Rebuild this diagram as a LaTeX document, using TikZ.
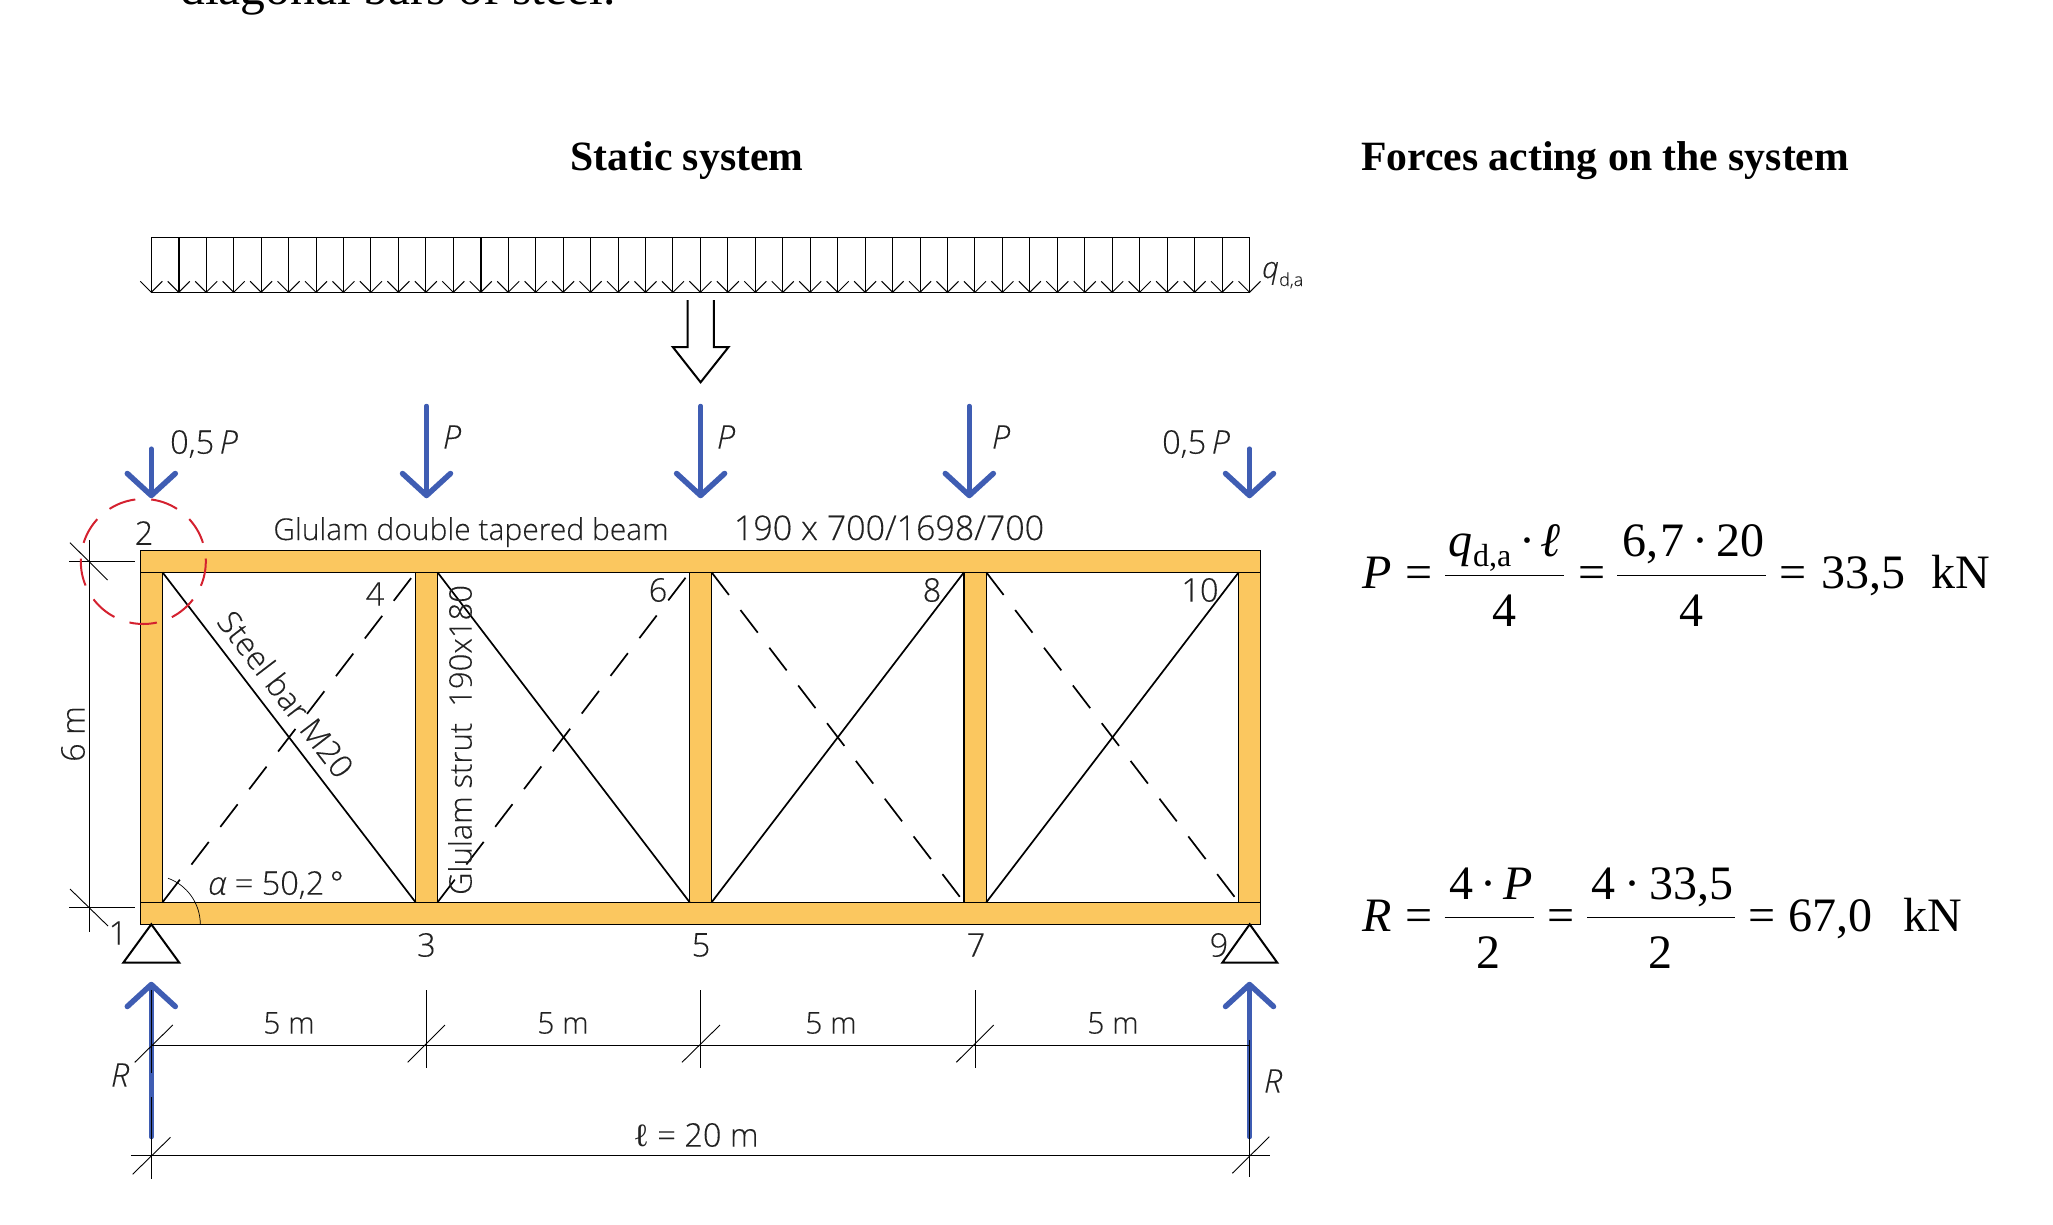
\documentclass[tikz,border=0pt]{standalone}
\usepackage{fontspec}
\setmainfont{Liberation Serif}
\newfontfamily\lightsans{Open Sans Light}[ItalicFont={Open Sans Light Italic}, FakeBold=0.2, AutoFakeBold=0.2]
\definecolor{timber}{HTML}{FBC75F}
\definecolor{forceblue}{HTML}{3F5DB3}
\definecolor{labelgray}{HTML}{222222}
\definecolor{detailred}{HTML}{D4212F}
\newcommand{\labsize}{\lightsans\fontsize{30}{32}\selectfont}
\newcommand{\numsize}{\lightsans\fontsize{32.5}{34}\selectfont}
\newcommand{\eqsize}{\fontsize{48}{52}\selectfont}
\newcommand{\eqsub}{\fontsize{32}{34}\selectfont}
\newcommand{\titlesize}{\bfseries\fontsize{41.7}{44}\selectfont}

\begin{document}
\begin{tikzpicture}[x=1pt, y=-1pt, inner sep=0pt,
    beam/.style = {draw=black, fill=timber, line width=1.3pt},
    tie/.style = {line width=1.7pt},
    slack/.style = {line width=1.7pt, dash pattern=on 28.5pt off 19pt},
    dimline/.style = {line width=0.9pt},
    support/.style = {line width=2pt, line join=miter},
    force/.style = {draw=forceblue, line width=4.5pt, line cap=round},
    forcehead/.style = {draw=forceblue, line width=5.5pt, line cap=round, line join=round},
    lab/.style = {font=\labsize, text=labelgray},
    num/.style = {font=\numsize, text=labelgray},
    eq/.style = {anchor=base west, font=\eqsize},
    eqmid/.style = {anchor=base, font=\eqsize},
    title/.style = {anchor=base, font=\titlesize},
    bar/.style = {line width=1.4pt}]
    \useasboundingbox (0,0) rectangle (2053,1225);

    \node[anchor=base west, font=\fontsize{49.6}{52}\selectfont] (intro) at (180,5) {diagonal bars of steel.};
    \node[title] (titleleft) at (687,171) {Static system};
    \node[title, anchor=base west] (titleright) at (1361,171) {Forces acting on the system};

    \draw[line width=1pt] (151.3,237.3) -- (1249.5,237.3);
    \draw[line width=1pt] (151.3,292.3) -- (1249.5,292.3);
    \foreach \i in {0,...,40} {
        \draw[line width=1pt] ({151.3+27.455*\i},237.3) -- ({151.3+27.455*\i},292.3);
        \draw[line width=1pt] ({140.3+27.455*\i},281.3) -- ({151.3+27.455*\i},292.3) -- ({162.3+27.455*\i},281.3);
    }
    \draw[line width=1.8pt] (178.8,237.3) -- (178.8,292.3);
    \draw[line width=1.8pt] (480.8,237.3) -- (480.8,292.3);
    \node[lab, anchor=base west] (qlabel) at (1262,278) {\textit{q}\raisebox{-8pt}{\fontsize{18}{20}\selectfont d,a}};

    \draw[support] (687.5,300) -- (687.5,347) -- (672.8,347) -- (700.6,382.3) -- (728.6,347) -- (713.8,347) -- (713.8,300);

    \draw[beam] (140.6,572.3) rectangle (162.5,902.3);
    \draw[beam] (415.6,572.3) rectangle (437.5,902.3);
    \draw[beam] (689.7,572.3) rectangle (711.6,902.3);
    \draw[beam] (964,572.3) rectangle (986.3,902.3);
    \draw[beam] (1238.7,572.3) rectangle (1260.3,902.3);
    \draw[beam] (140.6,550.3) rectangle (1260.3,572.3);
    \draw[beam] (140.6,902.3) rectangle (1260.3,924.3);

    \coordinate (b1l) at (162.5,902.3);
    \coordinate (t1l) at (162.5,572.3);
    \coordinate (b1r) at (415.6,902.3);
    \coordinate (t1r) at (415.6,572.3);
    \coordinate (b2l) at (437.5,902.3);
    \coordinate (t2l) at (437.5,572.3);
    \coordinate (b2r) at (689.7,902.3);
    \coordinate (t2r) at (689.7,572.3);
    \coordinate (b3l) at (711.6,902.3);
    \coordinate (t3l) at (711.6,572.3);
    \coordinate (b3r) at (964,902.3);
    \coordinate (t3r) at (964,572.3);
    \coordinate (b4l) at (986.3,902.3);
    \coordinate (t4l) at (986.3,572.3);
    \coordinate (b4r) at (1238.7,902.3);
    \coordinate (t4r) at (1238.7,572.3);
    \draw[tie] (t1l) -- (b1r);
    \draw[slack] (b1l) -- (t1r);
    \draw[tie] (t2l) -- (b2r);
    \draw[slack] (b2l) -- (t2r);
    \draw[tie] (b3l) -- (t3r);
    \draw[slack] (t3l) -- (b3r);
    \draw[tie] (b4l) -- (t4r);
    \draw[slack] (t4l) -- (b4r);

    \draw[line width=0.7pt] (200.3,924.3) arc[start angle=0, end angle=70, radius=49pt];

    \node[num] (1) at (118,933) {1};
    \node[num] (2) at (144,533) {2};
    \node[num] (3) at (426.5,945) {3};
    \node[num] (4) at (375,594) {4};
    \node[num] (5) at (701,945) {5};
    \node[num] (6) at (658,590) {6};
    \node[num] (7) at (976,945) {7};
    \node[num] (8) at (932,590) {8};
    \node[num] (9) at (1219,945) {9};
    \node[num] (10) at (1200,590) {10};

    \node[lab, anchor=base] (beamname) at (471,540) {Glulam double tapered beam};
    \node[num, anchor=base, font=\lightsans\fontsize{34}{36}\selectfont] (beamsize) at (889,540) {190 x 700/1698/700};
    \node[lab, rotate=-52.5, font=\lightsans\fontsize{32}{34}\selectfont] (barname) at (286,694) {Steel bar M20};
    \node[lab, rotate=90, font=\lightsans\fontsize{31}{33}\selectfont] (strutname) at (460,740) {Glulam strut\ \ 190x180};
    \node[num] (angle) at (276,885) {\textit{α} = 50,2\,°};
    \node[num, rotate=90] (height) at (73,734) {6 m};

    \coordinate (p2) at (151.3,448.7);
    \coordinate (q2) at (151.3,495.5);
    \coordinate (p4) at (426.5,406);
    \coordinate (q4) at (426.5,495.5);
    \coordinate (p6) at (700.6,406);
    \coordinate (q6) at (700.6,495.5);
    \coordinate (p8) at (969.3,406);
    \coordinate (q8) at (969.3,495.5);
    \coordinate (p10) at (1249.5,448.7);
    \coordinate (q10) at (1249.5,495.5);
    \draw[force] (p2) -- (q2);
    \draw[force] (p4) -- (q4);
    \draw[force] (p6) -- (q6);
    \draw[force] (p8) -- (q8);
    \draw[force] (p10) -- (q10);
    \draw[forcehead] ([shift={(-24,-22)}]q2) -- (q2) -- ([shift={(24,-22)}]q2);
    \draw[forcehead] ([shift={(-24,-22)}]q4) -- (q4) -- ([shift={(24,-22)}]q4);
    \draw[forcehead] ([shift={(-24,-22)}]q6) -- (q6) -- ([shift={(24,-22)}]q6);
    \draw[forcehead] ([shift={(-24,-22)}]q8) -- (q8) -- ([shift={(24,-22)}]q8);
    \draw[forcehead] ([shift={(-24,-22)}]q10) -- (q10) -- ([shift={(24,-22)}]q10);
    \node[num] (half2) at (204,444) {0,5\,\textit{P}};
    \node[num] (load4) at (452,437) {\textit{P}};
    \node[num] (load6) at (726,437) {\textit{P}};
    \node[num] (load8) at (1001,437) {\textit{P}};
    \node[num] (half10) at (1196,444) {0,5\,\textit{P}};

    \draw[support] (151.3,924.3) -- (123.3,962.7) -- (179.3,962.7) -- cycle;
    \draw[support] (1249.7,924.3) -- (1222.3,962.7) -- (1277.3,962.7) -- cycle;

    \coordinate (r1) at (151.3,1137);
    \coordinate (s1) at (151.3,984.5);
    \coordinate (r9) at (1249.5,1137);
    \coordinate (s9) at (1249.5,984.5);
    \draw[force] (r1) -- (s1);
    \draw[force] (r9) -- (s9);
    \draw[forcehead] ([shift={(-24,22)}]s1) -- (s1) -- ([shift={(24,22)}]s1);
    \draw[forcehead] ([shift={(-24,22)}]s9) -- (s9) -- ([shift={(24,22)}]s9);
    \node[num] (react1) at (120,1075) {\textit{R}};
    \node[num] (react9) at (1273,1081) {\textit{R}};

    \draw[dimline] (69,561.3) -- (135,561.3);
    \draw[dimline] (69,907.3) -- (135,907.3);
    \draw[dimline] (89.3,540) -- (89.3,931.7);
    \draw[dimline] (70,542.7) -- (107.6,580);
    \draw[dimline] (70,889) -- (108,926);

    \draw[dimline] (151.3,1045.3) -- (1249.5,1045.3);
    \draw[dimline] (151.3,990) -- (151.3,1073);
    \draw[dimline] (134.8,1062.3) -- (172.8,1025);
    \draw[dimline] (426.5,990) -- (426.5,1068);
    \draw[dimline] (407.6,1062.3) -- (445,1025);
    \draw[dimline] (700.5,990) -- (700.5,1068);
    \draw[dimline] (682,1062.3) -- (720,1025);
    \draw[dimline] (975.3,990) -- (975.3,1068);
    \draw[dimline] (956.3,1062.3) -- (993.7,1025);
    \draw[dimline] (1249.6,1040) -- (1249.6,1177);
    \draw[dimline] (130.8,1155.3) -- (1270,1155.3);
    \draw[dimline] (151.3,1097) -- (151.3,1179);
    \draw[dimline] (132.6,1174.3) -- (170.5,1137.3);
    \draw[dimline] (1232.3,1173.3) -- (1269.3,1136.7);

    \node[lab] (span1) at (289,1023) {5 m};
    \node[lab] (span2) at (563,1023) {5 m};
    \node[lab] (span3) at (831,1023) {5 m};
    \node[lab] (span4) at (1113,1023) {5 m};
    \node[num] (total) at (696,1135) {{\rmfamily ℓ} = 20 m};

    \draw[detailred, line width=2pt, dash pattern=on 27.6pt off 16pt, dash phase=24.6pt] (143.3,561.5) circle[radius=62.5pt];

    \node[eq] (pname) at (1362,588) {\textit{P}};
    \node[eq] (peq1) at (1405,588) {=};
    \node[eq] (pq) at (1448,556.7) {\textit{q}};
    \node[anchor=base west, font=\eqsub] (psub) at (1473,566) {d,a};
    \node[eq] (pell) at (1519,556.7) {·\hspace{5pt}\textit{ℓ}};
    \draw[bar] (1445,575.7) -- (1564,575.7);
    \node[eqmid] (pden1) at (1504,626) {4};
    \node[eq] (peq2) at (1578,588) {=};
    \node[eq] (pnum2) at (1622,556.7) {6,\hspace{2pt}7\hspace{8pt}·\hspace{8pt}20};
    \draw[bar] (1617,575.7) -- (1766,575.7);
    \node[eqmid] (pden2) at (1691,626) {4};
    \node[eq] (peq3) at (1779,588) {=};
    \node[eq] (presult) at (1821,588) {33,5\hspace{26pt}kN};

    \node[eq] (rname) at (1362,931.7) {\textit{R}};
    \node[eq] (req1) at (1405,931.7) {=};
    \node[eq] (rnum1) at (1449,899.3) {4\hspace{7pt}·\hspace{7pt}\textit{P}};
    \draw[bar] (1444.5,917.3) -- (1534,917.3);
    \node[eqmid] (rden1) at (1488.6,968) {2};
    \node[eq] (req2) at (1547,931.7) {=};
    \node[eq] (rnum2) at (1591,899.3) {4\hspace{9pt}·\hspace{9pt}33,5};
    \draw[bar] (1587,917.3) -- (1734.5,917.3);
    \node[eqmid] (rden2) at (1660,968) {2};
    \node[eq] (req3) at (1748,931.7) {=};
    \node[eq] (rresult) at (1788,931.7) {67,0\hspace{31pt}kN};
\end{tikzpicture}
\end{document}
